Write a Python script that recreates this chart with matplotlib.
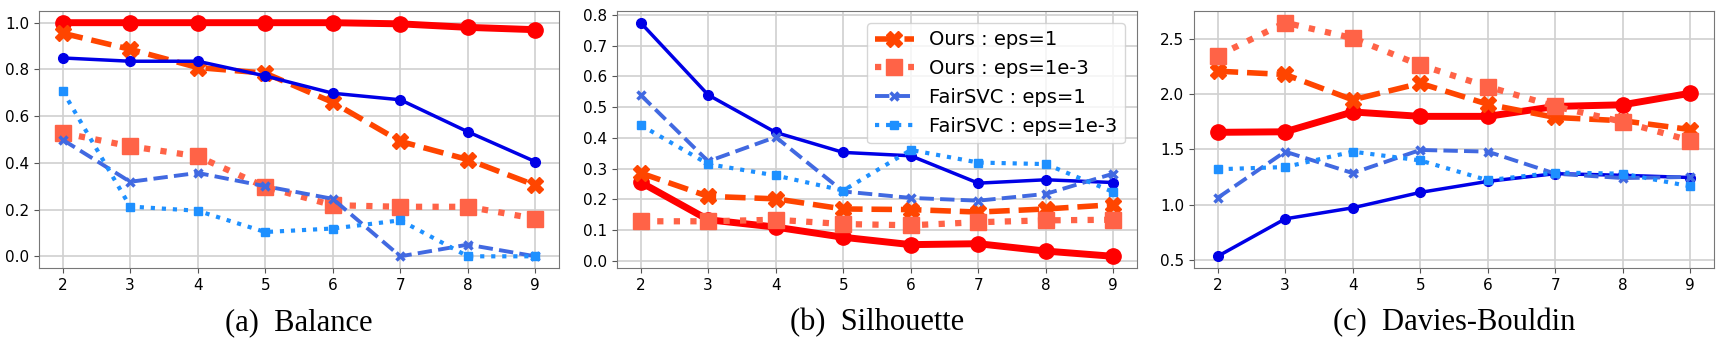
import numpy as np
import matplotlib
matplotlib.use('Agg')
from matplotlib import pyplot as plt

k = [2, 3, 4, 5, 6, 7, 8, 9]

# (a) Balance
bal_ours = [1.0, 1.0, 1.0, 1.0, 1.0, 0.995, 0.98, 0.97]
bal_ours_e1 = [0.955, 0.886, 0.808, 0.784, 0.659, 0.492, 0.414, 0.304]
bal_ours_e3 = [0.528, 0.471, 0.428, 0.297, 0.219, 0.212, 0.212, 0.161]
bal_svc = [0.849, 0.835, 0.835, 0.772, 0.698, 0.67, 0.533, 0.405]
bal_svc_e1 = [0.499, 0.319, 0.357, 0.3, 0.246, 0.0, 0.05, 0.0]
bal_svc_e3 = [0.708, 0.213, 0.195, 0.104, 0.119, 0.154, 0.0, 0.0]

# (b) Silhouette
sil_ours = [0.256, 0.134, 0.11, 0.077, 0.053, 0.056, 0.032, 0.015]
sil_ours_e1 = [0.286, 0.21, 0.202, 0.169, 0.167, 0.159, 0.169, 0.183]
sil_ours_e3 = [0.129, 0.129, 0.134, 0.12, 0.116, 0.126, 0.132, 0.134]
sil_svc = [0.775, 0.54, 0.418, 0.353, 0.342, 0.253, 0.264, 0.255]
sil_svc_e1 = [0.54, 0.324, 0.403, 0.226, 0.205, 0.196, 0.218, 0.284]
sil_svc_e3 = [0.442, 0.315, 0.278, 0.229, 0.361, 0.32, 0.315, 0.224]

# (c) Davies-Bouldin
db_ours = [1.655, 1.66, 1.84, 1.8, 1.8, 1.89, 1.905, 2.01]
db_ours_e1 = [2.21, 2.18, 1.95, 2.1, 1.91, 1.79, 1.76, 1.68]
db_ours_e3 = [2.35, 2.65, 2.51, 2.265, 2.07, 1.89, 1.75, 1.58]
db_svc = [0.53, 0.87, 0.97, 1.11, 1.21, 1.28, 1.265, 1.245]
db_svc_e1 = [1.06, 1.48, 1.285, 1.495, 1.48, 1.28, 1.24, 1.25]
db_svc_e3 = [1.32, 1.34, 1.48, 1.4, 1.22, 1.29, 1.28, 1.165]

captions = ['(a)  Balance', '(b)  Silhouette', '(c)  Davies-Bouldin']
labels = ['Ours : eps=1', 'Ours : eps=1e-3', 'FairSVC : eps=1', 'FairSVC : eps=1e-3']
yticks = [np.arange(0, 1.01, 0.2), np.arange(0, 0.81, 0.1), np.arange(0.5, 2.51, 0.5)]

panels = [
    (bal_ours, bal_ours_e1, bal_ours_e3, bal_svc, bal_svc_e1, bal_svc_e3),
    (sil_ours, sil_ours_e1, sil_ours_e3, sil_svc, sil_svc_e1, sil_svc_e3),
    (db_ours, db_ours_e1, db_ours_e3, db_svc, db_svc_e1, db_svc_e3),
]

fig = plt.figure(figsize=(17.21, 3.39), dpi=100)
lefts = [39, 617, 1194]
W, H = 1721, 339

for i, (ours, o1, o3, svc, s1, s3) in enumerate(panels):
    ax = fig.add_axes([lefts[i] / W, (H - 268) / H, 520 / W, 257 / H])
    ax.plot(k, ours, '-', color='red', lw=5, marker='o', ms=11, zorder=3)
    ax.plot(k, o1, '--', color='orangered', lw=4, marker='X', ms=11, label=labels[0], zorder=3)
    ax.plot(k, o3, ':', color='tomato', lw=4.5, marker='s', ms=11, label=labels[1], zorder=3)
    ax.plot(k, svc, '-', color='#0000e6', lw=2.5, marker='o', ms=7, zorder=3)
    ax.plot(k, s1, '--', color='royalblue', lw=2.8, marker='x', ms=6, mew=2.5, label=labels[2], zorder=3)
    ax.plot(k, s3, ':', color='dodgerblue', lw=3, marker='s', ms=6, label=labels[3], zorder=3)
    ax.grid(True, color='#d0d0d0', lw=1.2)
    ax.set_axisbelow(True)
    ax.set_xticks(k)
    ax.set_yticks(yticks[i])
    ax.tick_params(labelsize=11, color='#555555')
    for s in ax.spines.values():
        s.set_color('#777777')
    if i == 1:
        ax.legend(loc='upper right', fontsize=14, borderaxespad=0.6, handlelength=2.0)
    fig.text((lefts[i] + 260) / W, (H - 323) / H, captions[i], ha='center', va='center',
             fontsize=22, family='Liberation Serif')

plt.savefig('out.png', dpi=100)
